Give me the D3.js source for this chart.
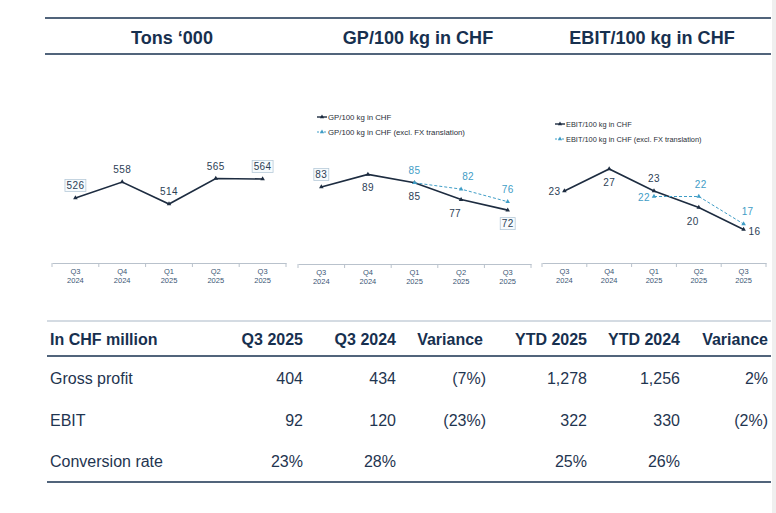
<!DOCTYPE html>
<html>
<head>
<meta charset="utf-8">
<script src="https://cdn.jsdelivr.net/npm/d3@7"></script>
<style>
  body { margin: 0; background: #fff; }
  text { font-family: "Liberation Sans", Arial, sans-serif; }
</style>
</head>
<body>
<script>
// quarters on the x axis
var quarters = ['Q3 2024', 'Q4 2024', 'Q1 2025', 'Q2 2025', 'Q3 2025'];

// chart values
var tons = [526, 558, 514, 565, 564];
var gp = [83, 89, 85, 77, 72];
var gpExFx = [null, null, 85, 82, 76];
var ebit = [23, 27, 23, 20, 16];
var ebitExFx = [null, null, 22, 22, 17];

var panelTitles = ['Tons \u2018000', 'GP/100 kg in CHF', 'EBIT/100 kg in CHF'];

// table
var tableHead = ['In CHF million', 'Q3 2025', 'Q3 2024', 'Variance', 'YTD 2025', 'YTD 2024', 'Variance'];
var tableRows = [
  ['Gross profit', '404', '434', '(7%)', '1,278', '1,256', '2%'],
  ['EBIT', '92', '120', '(23%)', '322', '330', '(2%)'],
  ['Conversion rate', '23%', '28%', '', '25%', '26%', '']
];

var navy = '#17304f';
var lineCol = '#1d2c40';
var fxCol = '#3f9dc6';
var axisCol = '#b9c2cc';
var tickTxt = '#3b5675';

var svg = d3.select('body').append('svg')
  .attr('width', 776)
  .attr('height', 513);

// light strip on the right edge
svg.append('rect').attr('x', 772).attr('y', 0).attr('width', 4).attr('height', 513).attr('fill', '#efefef');

// header band
[18, 54].forEach(function(y) {
  svg.append('line').attr('x1', 45).attr('x2', 771).attr('y1', y).attr('y2', y)
    .attr('stroke', navy).attr('stroke-width', 1.5);
});
var titleX = [172, 418, 652];
panelTitles.forEach(function(t, i) {
  svg.append('text')
    .attr('transform', 'translate(' + titleX[i] + ',44) scale(0.95,1)')
    .attr('text-anchor', 'middle')
    .style('font-weight', 'bold').style('font-size', '19px')
    .attr('fill', navy).text(t);
});

// place: [dx, dy, anchor]
var pos = {
  a: [0, -9, 'middle'], b: [0, 17, 'middle'], l: [-4, 4, 'end'], r: [5, 5, 'start']
};

var drawPanel = function(cfg) {
  var x = d3.scaleBand().domain(quarters).range(cfg.xr);
  var y = d3.scaleLinear().domain(cfg.yd).range(cfg.yr);
  var g = svg.append('g');
  var axY = cfg.axisY;

  // axis
  var ax = g.append('g').attr('transform', 'translate(0,' + axY + ')')
    .call(d3.axisBottom(x).tickSize(0).tickFormat(''));
  ax.select('.domain').attr('stroke', axisCol);
  var bounds = quarters.map(function(q) { return x(q); }).concat([cfg.xr[1]]);
  g.selectAll('.tk').data(bounds).enter().append('line')
    .attr('x1', function(d) { return d; }).attr('x2', function(d) { return d; })
    .attr('y1', axY).attr('y2', axY + 4)
    .attr('stroke', axisCol);
  quarters.forEach(function(q) {
    var parts = q.split(' ');
    var t = g.append('text').attr('text-anchor', 'middle').attr('fill', tickTxt)
      .style('font-size', '7.5px');
    t.append('tspan').attr('x', x(q) + x.bandwidth() / 2).attr('y', axY + 11).text(parts[0]);
    t.append('tspan').attr('x', x(q) + x.bandwidth() / 2).attr('y', axY + 20).text(parts[1]);
  });

  var cx = function(d, i) { return x(quarters[i]) + x.bandwidth() / 2; };

  cfg.series.forEach(function(s) {
    var pts = s.values.map(function(v, i) { return { v: v, i: i }; })
      .filter(function(d) { return d.v !== null; });
    var line = d3.line()
      .x(function(d) { return cx(d, d.i); })
      .y(function(d) { return y(d.v); });
    g.append('path').datum(pts).attr('d', line)
      .attr('fill', 'none').attr('stroke', s.color)
      .attr('stroke-width', s.dash ? 1 : 1.6)
      .attr('stroke-dasharray', s.dash ? '3,2' : null);
    g.selectAll(null).data(pts).enter().append('path')
      .attr('d', d3.symbol().type(d3.symbolTriangle).size(9))
      .attr('transform', function(d) { return 'translate(' + cx(d, d.i) + ',' + y(d.v) + ')'; })
      .attr('fill', s.color);
    pts.forEach(function(d) {
      var p = pos[s.place[d.i]];
      var sh = s.shift ? s.shift[d.i] : 0;
      var tx = cx(d, d.i) + p[0] + sh;
      var ty = y(d.v) + p[1];
      var t = g.append('text').attr('x', tx).attr('y', ty)
        .attr('text-anchor', p[2]).attr('fill', s.labelColor)
        .style('font-size', '10px').style('letter-spacing', '0.4px')
        .text(d.v);
      if (s.boxed && s.boxed[d.i]) {
        var bb = t.node().getBBox();
        g.insert('rect', function() { return t.node(); })
          .attr('x', bb.x - 1.5).attr('y', bb.y - 0.5)
          .attr('width', bb.width + 3).attr('height', bb.height + 1)
          .attr('fill', '#f7fbfd').attr('stroke', '#b6cad9').attr('stroke-width', 0.8);
      }
    });
  });

  // legend
  if (cfg.legend) {
    cfg.series.forEach(function(s, k) {
      var ly = cfg.legend[1] + k * 15;
      var lx = cfg.legend[0];
      g.append('line').attr('x1', lx).attr('x2', lx + 10).attr('y1', ly).attr('y2', ly)
        .attr('stroke', s.color).attr('stroke-width', s.dash ? 1 : 1.4)
        .attr('stroke-dasharray', s.dash ? '2,1.5' : null);
      g.append('path').attr('d', d3.symbol().type(d3.symbolTriangle).size(8))
        .attr('transform', 'translate(' + (lx + 5) + ',' + ly + ')').attr('fill', s.color);
      g.append('text').attr('x', lx + 11).attr('y', ly + 2.5)
        .attr('fill', '#2a2f38').style('font-size', cfg.legendSize).text(s.name);
    });
  }
};

drawPanel({
  xr: [52, 286], yd: [400, 600], yr: [261, 161], axisY: 263,
  series: [{ name: 'Tons', values: tons, color: lineCol, labelColor: '#2c3e55',
    place: ['a', 'a', 'a', 'a', 'a'], boxed: [true, false, false, false, true] }]
});

drawPanel({
  xr: [298, 531], yd: [40, 100], yr: [277.3, 151.3], axisY: 264,
  legend: [317, 117], legendSize: '7.8px',
  series: [
    { name: 'GP/100 kg in CHF', values: gp, color: lineCol, labelColor: '#2c3e55',
      place: ['a', 'b', 'b', 'b', 'b'], shift: [0, 0, 0, -6, 0], boxed: [true, false, false, false, true] },
    { name: 'GP/100 kg in CHF (excl. FX translation)', values: gpExFx, color: fxCol, labelColor: fxCol, dash: true,
      place: ['a', 'a', 'a', 'a', 'a'], shift: [0, 0, 0, 7, 0] }
  ]
});

drawPanel({
  xr: [542, 766], yd: [10, 30], yr: [262.5, 152.5], axisY: 263,
  legend: [555, 124], legendSize: '7.4px',
  series: [
    { name: 'EBIT/100 kg in CHF', values: ebit, color: lineCol, labelColor: '#2c3e55',
      place: ['l', 'b', 'a', 'b', 'r'], shift: [0, 0, 0, -6, 0] },
    { name: 'EBIT/100 kg in CHF  (excl. FX translation)', values: ebitExFx, color: fxCol, labelColor: fxCol, dash: true,
      place: ['a', 'a', 'l', 'a', 'a'], shift: [0, 0, 0, 2, 4] }
  ]
});

// table
var colRight = [null, 303, 396, 486, 587, 680, 768];
var headRight = [null, 303, 396, 483, 587, 680, 768];
svg.append('line').attr('x1', 47).attr('x2', 771).attr('y1', 321).attr('y2', 321)
  .attr('stroke', '#a9b7c6').attr('stroke-width', 1);
svg.append('line').attr('x1', 47).attr('x2', 771).attr('y1', 356).attr('y2', 356)
  .attr('stroke', navy).attr('stroke-width', 1.5);
svg.append('line').attr('x1', 47).attr('x2', 771).attr('y1', 482).attr('y2', 482)
  .attr('stroke', navy).attr('stroke-width', 1.5);

svg.selectAll('.th').data(tableHead).enter().append('text')
  .attr('x', function(d, i) { return i === 0 ? 50 : headRight[i]; })
  .attr('y', 345)
  .attr('text-anchor', function(d, i) { return i === 0 ? 'start' : 'end'; })
  .attr('fill', navy).style('font-weight', 'bold').style('font-size', '16px')
  .text(function(d) { return d; });

var rowY = [384, 426, 467];
tableRows.forEach(function(row, r) {
  svg.selectAll(null).data(row).enter().append('text')
    .attr('x', function(d, i) { return i === 0 ? 50 : colRight[i]; })
    .attr('y', rowY[r])
    .attr('text-anchor', function(d, i) { return i === 0 ? 'start' : 'end'; })
    .attr('fill', '#1f3550').style('font-size', '16px')
    .text(function(d) { return d; });
});
</script>
</body>
</html>
